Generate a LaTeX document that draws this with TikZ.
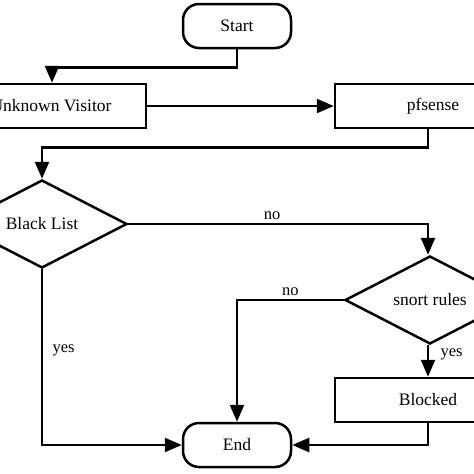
\documentclass[tikz,border=0pt]{standalone}
\usepackage{fontspec}
\setmainfont{Liberation Serif}
\usetikzlibrary{shapes.geometric,arrows.meta}

\begin{document}
\begin{tikzpicture}[x=1pt,y=-1pt,
  every node/.style={font=\fontsize{17.5}{20}\selectfont},
  terminal/.style={draw,line width=2.5pt,rounded corners=16pt,minimum width=108pt,minimum height=44pt},
  process/.style={draw,line width=2.5pt,minimum height=44pt},
  decision/.style={draw,diamond,aspect=1.9,inner sep=0pt,line width=2.5pt,minimum width=170pt,minimum height=88pt},
  flow/.style={line width=2.5pt,-{Triangle[length=17pt,width=14pt]}},
  lbl/.style={font=\fontsize{16.5}{19}\selectfont}]
  \useasboundingbox (0,0) rectangle (474,474);
  \node[terminal] (start) at (237,26) {Start};
  \node[process,minimum width=190pt] (visitor) at (51,106) {Unknown Visitor};
  \node[process,minimum width=196pt] (pfsense) at (433,106) {pfsense};
  \node[decision] (black) at (42,224) {Black List};
  \node[decision] (snort) at (430,300) {snort rules};
  \node[process,minimum width=186pt] (blocked) at (428,400) {Blocked};
  \node[terminal] (end) at (237,445) {End};

  \draw[flow] (start.south) -- ++(0,18) -| ([xshift=1pt]visitor.north);
  \draw[flow] (visitor.east) -- (pfsense.west);
  \draw[flow] ([xshift=-5pt]pfsense.south) -- ++(0,18) -| (black.north);
  \draw[flow] (black.east) -| node[lbl,pos=0.24,above] {no} ([xshift=-2pt]snort.north);
  \draw[flow] (snort.west) -| node[lbl,pos=0.25,above] {no} (end.north);
  \draw[flow] ([xshift=-2pt]snort.south) -- node[lbl,pos=0.3,right=8pt] {yes} (blocked.north);
  \draw[flow] (blocked.south) |- (end.east);
  \draw[flow] (black.south) |- node[lbl,pos=0.23,right=6pt] {yes} (end.west);
\end{tikzpicture}
\end{document}
